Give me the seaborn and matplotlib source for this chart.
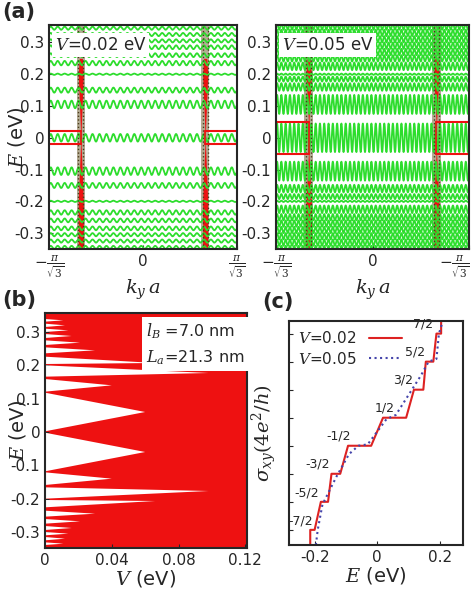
import numpy as np
import pandas as pd
import matplotlib
matplotlib.use("Agg")
import matplotlib.pyplot as plt
import seaborn as sns

sns.set_style("ticks")
plt.rcParams['font.family'] = ['DejaVu Sans']
plt.rcParams['mathtext.fontset'] = 'dejavuserif'

# ---- panel (a) data ----
KMAX = np.pi / np.sqrt(3)
band_k = [-1.2, 1.2]
lev_a1 = [0, 0.105, 0.15, 0.2, 0.235, 0.26, 0.285, 0.305, 0.325, 0.345]
amp_a1 = [0.012, 0.012, 0.008, 0.002, 0.007, 0.006, 0.006, 0.005, 0.005, 0.005]
lev_a2 = [0, 0.105, 0.16, 0.185, 0.2, 0.225, 0.25, 0.27, 0.29, 0.31, 0.33, 0.35]
amp_a2 = [0.045, 0.03, 0.012, 0.008, 0.002, 0.012, 0.01, 0.01, 0.01, 0.01, 0.01, 0.01]
V_a = [0.02, 0.05]
periods = [27, 45]

# ---- panel (b) data: gap centers, half widths at V=0, closing V ----
gap_center = [0.06, 0.14, 0.183, 0.215, 0.245, 0.268, 0.288, 0.305, 0.32, 0.335]
gap_half = [0.058, 0.019, 0.017, 0.011, 0.009, 0.007, 0.006, 0.005, 0.005, 0.004]
gap_tip = [0.06, 0.04, 0.098, 0.066, 0.03, 0.021, 0.016, 0.014, 0.012, 0.011]
tip_shift = [0.0, 0.0, -0.006, -0.008, 0.0, 0.0, 0.0, 0.0, 0.0, 0.0]

# ---- panel (c) data ----
E_red = [-0.214, -0.214, -0.2, -0.18, -0.157, -0.146, -0.118, -0.093, -0.019, 0.019,
         0.093, 0.118, 0.148, 0.156, 0.18, 0.19, 0.205, 0.205]
s_red = [-4.04, -3.5, -3.5, -2.5, -2.5, -1.5, -1.5, -0.5, -0.5, 0.5,
         0.5, 1.5, 1.5, 2.5, 2.5, 3.5, 3.5, 4.0]
E_blue = [-0.196, -0.19, -0.175, -0.13, -0.09, -0.06, -0.03, 0.0, 0.03, 0.06,
          0.1, 0.14, 0.165, 0.19, 0.198, 0.212]
s_blue = [-4.04, -3.5, -2.6, -1.6, -0.8, -0.5, -0.45, 0.0, 0.45, 0.6,
          1.3, 2.0, 2.5, 2.6, 3.5, 4.0]
plateau_lbl = ['-7/2', '-5/2', '-3/2', '-1/2', '1/2', '3/2', '5/2', '7/2']
plateau_val = [-3.5, -2.5, -1.5, -0.5, 0.5, 1.5, 2.5, 3.5]
plateau_E = [-0.205, -0.185, -0.15, -0.085, 0.055, 0.115, 0.155, 0.18]

W, H = 474, 593
fig = plt.figure(figsize=(W / 100, H / 100), dpi=100)

def rect(l, t, r, b):
    return [l / W, 1 - b / H, (r - l) / W, (b - t) / H]

green = '#2ddd2d'
red = '#ee1111'

def panel_a(ax, lev, amp, V, per, label):
    k = np.linspace(-KMAX, KMAX, 2000)
    for e, a in zip(lev, amp):
        for s in ([1, -1] if e > 0 else [1]):
            ax.plot(k, s * e + a * np.sin(2 * np.pi * per * (k + KMAX) / (2 * KMAX)),
                    color=green, lw=1.3)
    for kb in band_k:
        ax.axvspan(kb - 0.08, kb + 0.08, color='#6b5a2a', alpha=0.5, lw=0)
        ax.axvline(kb - 0.05, color='#4a3a1a', ls=':', lw=1)
        ax.axvline(kb + 0.05, color='#4a3a1a', ls=':', lw=1)
        ax.fill_betweenx([-0.35, -0.2, -V, V, 0.2, 0.25],
                         [kb - 0.05, kb - 0.05, kb - 0.005, kb - 0.005, kb - 0.05, kb - 0.03],
                         [kb + 0.05, kb + 0.05, kb + 0.005, kb + 0.005, kb + 0.05, kb + 0.03],
                         color=red, lw=0)
    for s in [1, -1]:
        ax.plot([-KMAX, band_k[0]], [s * V, s * V], color=red, lw=1.5)
        ax.plot([band_k[1], KMAX], [-s * V, -s * V], color=red, lw=1.5)
    ax.plot([band_k[0]] * 2, [-V, V], color=red, lw=1.2)
    ax.plot([band_k[1]] * 2, [-V, V], color=red, lw=1.2)
    ax.set_xlim(-KMAX, KMAX)
    ax.set_ylim(-0.35, 0.355)
    ax.set_yticks([-0.3, -0.2, -0.1, 0, 0.1, 0.2, 0.3])
    ax.set_yticklabels(['-0.3', '-0.2', '-0.1', '0', '0.1', '0.2', '0.3'])
    ax.set_xticks([-KMAX, 0, KMAX])
    ax.set_xlabel(r'$k_y\,a$', fontsize=14, labelpad=-2)
    ax.text(0.03, 0.95, label, transform=ax.transAxes, fontsize=12, va='top',
            bbox=dict(facecolor='white', edgecolor='none', pad=2))
    ax.tick_params(labelsize=11, direction='in', length=3)
    for sp in ax.spines.values():
        sp.set_linewidth(1.5)

ax1 = fig.add_axes(rect(49, 25, 237, 249))
panel_a(ax1, lev_a1, amp_a1, V_a[0], periods[0], r'$V$=0.02 eV')
ax1.set_xticklabels([r'$-\frac{\pi}{\sqrt{3}}$', '0', r'$\frac{\pi}{\sqrt{3}}$'], fontsize=11)
ax1.set_ylabel(r'$E$ (eV)', fontsize=14)
ax1.yaxis.set_label_coords(-0.115, 0.5)

ax2 = fig.add_axes(rect(276, 25, 469, 249))
panel_a(ax2, lev_a2, amp_a2, V_a[1], periods[1], r'$V$=0.05 eV')
ax2.set_xticklabels([r'$-\frac{\pi}{\sqrt{3}}$', '0', r'$-\frac{\pi}{\sqrt{3}}$'], fontsize=11)
ax2.get_xticklabels()[-1].set_ha('right')

# panel (b)
ax3 = fig.add_axes(rect(45, 313, 247, 548))
ax3.set_facecolor(red)
for c, h, t, d in zip(gap_center, gap_half, gap_tip, tip_shift):
    for s in [1, -1]:
        ax3.fill([0, t, 0], [s * (c - h), s * (c + d), s * (c + h)], color='white', lw=0)
ax3.set_xlim(0, 0.121)
ax3.set_ylim(-0.348, 0.357)
ax3.set_xticks([0, 0.04, 0.08, 0.12])
ax3.set_xticklabels(['0', '0.04', '0.08', '0.12'])
ax3.set_yticks([-0.3, -0.2, -0.1, 0, 0.1, 0.2, 0.3])
ax3.set_yticklabels(['-0.3', '-0.2', '-0.1', '0', '0.1', '0.2', '0.3'])
ax3.set_xlabel(r'$V$ (eV)', fontsize=14, labelpad=0)
ax3.set_ylabel(r'$E$ (eV)', fontsize=14)
ax3.yaxis.set_label_coords(-0.085, 0.5)
ax3.tick_params(labelsize=11, direction='in', length=3)
ax3.text(0.5, 0.965, '$l_B$ =7.0 nm\n$L_a$=21.3 nm', transform=ax3.transAxes,
         fontsize=11.5, va='top', linespacing=1.5,
         bbox=dict(facecolor='white', edgecolor='none', pad=3))
for sp in ax3.spines.values():
    sp.set_linewidth(1.5)

# panel (c)
ax4 = fig.add_axes(rect(289, 321, 463, 545))
df_r = pd.DataFrame({'E': E_red, 's': s_red})
df_b = pd.DataFrame({'E': E_blue, 's': s_blue})
sns.lineplot(data=df_r, x='E', y='s', sort=False, estimator=None, color='#dd2222',
             lw=1.5, ax=ax4, label=r'$V$=0.02')
sns.lineplot(data=df_b, x='E', y='s', sort=False, estimator=None, color='#4444aa',
             lw=1.5, ls=':', ax=ax4, label=r'$V$=0.05')
for l, v, e in zip(plateau_lbl, plateau_val, plateau_E):
    ax4.text(e, v + 0.1, l, fontsize=9, va='bottom', ha='right')
ax4.set_xlim(-0.282, 0.275)
ax4.set_ylim(-4.04, 3.95)
ax4.set_xticks([-0.2, 0, 0.2])
ax4.set_xticklabels(['-0.2', '0', '0.2'])
ax4.set_yticks(plateau_val)
ax4.set_yticklabels([])
ax4.set_xlabel(r'$E$ (eV)', fontsize=14, labelpad=0)
ax4.set_ylabel(r'$\sigma_{xy}(4e^2/h)$', fontsize=14, labelpad=4)
ax4.tick_params(labelsize=11, direction='in', length=3)
ax4.legend(loc='upper left', frameon=False, markerfirst=False, fontsize=11,
           handlelength=2.2, borderaxespad=0.2, labelspacing=0.3)
for sp in ax4.spines.values():
    sp.set_linewidth(1.5)

for txt, x, y in [('(a)', 2, 2), ('(b)', 2, 290), ('(c)', 262, 292)]:
    fig.text(x / W, 1 - y / H, txt, fontsize=15, fontweight='bold', va='top')

fig.savefig('out.png', dpi=100)
